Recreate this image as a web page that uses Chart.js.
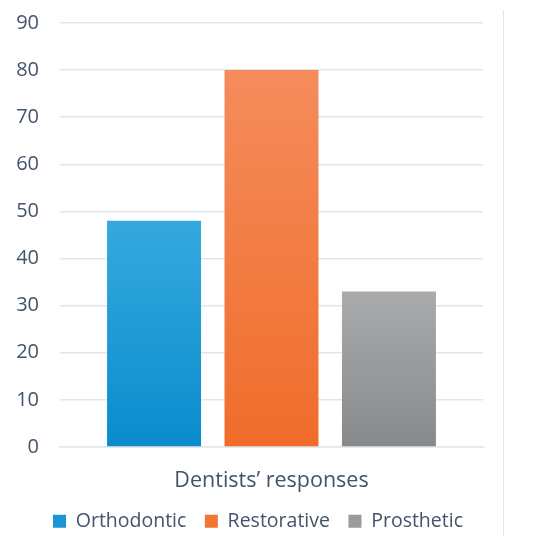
<!DOCTYPE html>
<html>
<head>
<meta charset="utf-8">
<script src="https://cdn.jsdelivr.net/npm/chart.js@4/dist/chart.umd.min.js"></script>
<style>
  html, body { margin: 0; padding: 0; background: #fff; }
  #wrap { position: relative; width: 536px; height: 536px; }
  #edge { position: absolute; left: 503px; top: 10px; width: 1px; height: 526px; background: #e3e7ec; }
</style>
</head>
<body>
<div id="wrap">
  <canvas id="chart" width="536" height="536"></canvas>
  <div id="edge"></div>
</div>
<script>
// data
const categories = ["Dentists\u2019 responses"];
const seriesNames = ["Orthodontic", "Restorative", "Prosthetic"];
const orthodontic = [48];
const restorative = [80];
const prosthetic = [33];
const yTicks = [0, 10, 20, 30, 40, 50, 60, 70, 80, 90];

// top / bottom colours of each bar gradient
const topColors = ["#35a9de", "#f58c5c", "#aaabac"];
const bottomColors = ["#0a8ccd", "#f06c2a", "#88898b"];
const legendColors = ["#1a96d4", "#f27634", "#999a9c"];

const textColor = "#43536a";

function barGradient(i) {
  return function (ctx) {
    const chart = ctx.chart;
    if (!chart.chartArea || ctx.type !== "data") return legendColors[i];
    const y = chart.scales.y;
    const top = y.getPixelForValue(ctx.raw);
    const base = y.getPixelForValue(0);
    const g = chart.ctx.createLinearGradient(0, top, 0, base);
    g.addColorStop(0, topColors[i]);
    g.addColorStop(1, bottomColors[i]);
    return g;
  };
}

const allSeries = [orthodontic, restorative, prosthetic];

new Chart(document.getElementById("chart"), {
  type: "bar",
  data: {
    labels: categories,
    datasets: allSeries.map((vals, i) => ({
      label: seriesNames[i],
      data: vals,
      backgroundColor: barGradient(i),
      borderWidth: 0,
      barPercentage: 0.8,
      categoryPercentage: 0.833
    }))
  },
  options: {
    responsive: false,
    animation: false,
    layout: { padding: { left: 0, right: 20, top: 23, bottom: -5 } },
    scales: {
      x: {
        grid: { display: false },
        border: { color: "#e2e6ea", width: 1.5 },
        ticks: { color: textColor, font: { family: "Open Sans", size: 21.5 }, padding: 13 },
        afterFit: (axis) => { axis.height = 46; }
      },
      y: {
        min: 0,
        max: 90,
        afterBuildTicks: (axis) => { axis.ticks = yTicks.map(v => ({ value: v })); },
        grid: { color: "#e2e6ea", lineWidth: 1.5, drawTicks: false },
        border: { display: false },
        ticks: { color: textColor, font: { family: "Open Sans", size: 20 }, padding: 21 },
        afterFit: (axis) => { axis.width = 60; axis.paddingTop = 0; axis.paddingBottom = 0; }
      },
      // empty right-hand axis: keeps the plot narrower than the legend row
      yRight: {
        position: "right",
        grid: { display: false },
        border: { display: false },
        ticks: { display: false },
        afterFit: (axis) => { axis.width = 33; }
      }
    },
    plugins: {
      tooltip: { enabled: false },
      legend: {
        position: "bottom",
        labels: {
          color: textColor,
          font: { family: "Open Sans", size: 19.5 },
          boxWidth: 13,
          boxHeight: 13,
          padding: 18.5,
          generateLabels: (chart) => seriesNames.map((n, i) => ({
            text: n,
            fillStyle: legendColors[i],
            strokeStyle: legendColors[i],
            fontColor: textColor,
            lineWidth: 0,
            datasetIndex: i
          }))
        }
      }
    }
  }
});
</script>
</body>
</html>
